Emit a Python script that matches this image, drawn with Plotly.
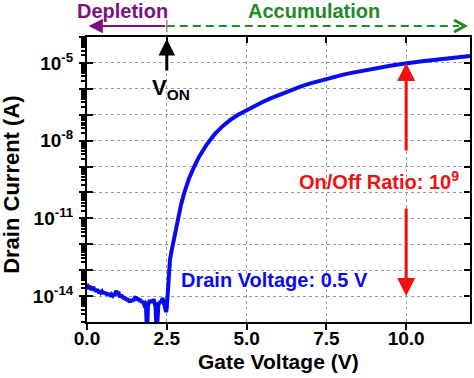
import plotly.graph_objects as go

# ---- data ----
gate_voltage = [
    0.00, 0.02, 0.04, 0.06, 0.08, 0.10, 0.12, 0.14, 0.16, 0.18, 0.20, 0.23, 0.26, 0.29,
    0.32, 0.35, 0.38, 0.41, 0.44, 0.47, 0.50, 0.53, 0.56, 0.59, 0.62, 0.65, 0.68, 0.71,
    0.74, 0.77, 0.80, 0.83, 0.86, 0.89, 0.92, 0.95, 0.98, 1.01, 1.04, 1.07, 1.10, 1.13,
    1.16, 1.19, 1.22, 1.25, 1.28, 1.31, 1.34, 1.37, 1.40, 1.43, 1.46, 1.49, 1.52, 1.55,
    1.58, 1.61, 1.64, 1.67, 1.70, 1.73, 1.76, 1.79, 1.82, 1.85, 1.88, 1.91, 1.94, 1.97,
    2.00, 2.03, 2.06, 2.09, 2.12, 2.15, 2.18, 2.21, 2.24, 2.27, 2.30, 2.33, 2.36, 2.39,
    2.42, 2.45, 2.48, 2.50, 2.52, 2.54, 2.56, 2.60, 2.65, 2.70, 2.77, 2.85, 2.95, 3.05,
    3.20, 3.36, 3.50, 3.75, 4.00, 4.25, 4.50, 4.75, 5.00, 5.25, 5.50, 5.75, 6.00, 6.25,
    6.50, 6.75, 7.00, 7.25, 7.50, 7.75, 8.00, 8.25, 8.50, 8.75, 9.00, 9.25, 9.50, 9.75,
    10.00, 10.50, 11.00, 11.50, 12.00,
]
log10_drain_current = [
    -13.52, -13.68, -13.58, -13.74, -13.60, -13.70, -13.62, -13.78, -13.66, -13.74, -13.64, -13.80, -13.72, -13.84,
    -13.74, -13.80, -13.88, -13.78, -13.86, -13.82, -13.90, -13.84, -13.92, -13.86, -13.96, -13.88, -13.98, -13.92,
    -14.02, -13.94, -13.98, -13.90, -14.00, -13.88, -13.80, -13.90, -13.84, -13.96, -14.04, -13.94, -14.06, -14.00,
    -14.12, -14.04, -14.16, -14.08, -14.20, -14.12, -14.24, -14.14, -14.22, -14.12, -14.18, -14.08, -14.02, -14.12,
    -14.06, -14.18, -14.10, -14.22, -14.16, -14.26, -14.20, -14.32, -14.28, -14.40, -15.60, -14.36, -14.24, -14.16,
    -14.26, -14.14, -14.22, -14.12, -14.30, -14.42, -15.60, -14.34, -14.24, -14.30, -14.18, -14.26, -14.08, -14.16,
    -14.30, -14.46, -14.62, -14.45, -14.00, -13.45, -13.00, -12.60, -12.25, -11.95, -11.45, -11.00, -10.45, -10.00,
    -9.45, -9.00, -8.65, -8.15, -7.75, -7.44, -7.19, -6.99, -6.82, -6.66, -6.51, -6.37, -6.24, -6.12,
    -6.00, -5.89, -5.79, -5.70, -5.61, -5.535, -5.46, -5.395, -5.33, -5.27, -5.215, -5.16, -5.11, -5.06,
    -5.01, -4.935, -4.865, -4.795, -4.73,
]
drain_current = [10 ** v for v in log10_drain_current]

x_tick_vals = [0, 2.5, 5, 7.5, 10]
x_tick_text = ["0.0", "2.5", "5.0", "7.5", "10.0"]
y_decades = list(range(-14, -3))
y_tick_vals = [10.0 ** d for d in y_decades]
y_labeled = [-14, -11, -8, -5]
y_tick_text = [f"10<sup>{d}</sup>" if d in y_labeled else "" for d in y_decades]

x_range = [0, 12]
y_range = [-15, -4]
v_on = 2.5
ratio_x = 10
ratio_top = -5
ratio_bottom = -14

FONT = "Liberation Sans, Arial, sans-serif"
BLUE = "#0a0af2"
PURPLE = "#7f0f80"
GREEN = "#1f8a24"
RED = "#f01010"

fig = go.Figure()
fig.add_trace(go.Scatter(
    x=gate_voltage, y=drain_current, mode="lines",
    line=dict(color=BLUE, width=4), showlegend=False, hoverinfo="skip",
))
# helper traces so mirror axes are drawn
fig.add_trace(go.Scatter(x=[None], y=[None], xaxis="x2", yaxis="y2", showlegend=False))
fig.add_trace(go.Scatter(x=[None], y=[None], xaxis="x", yaxis="y3", showlegend=False))

tickfont = dict(family=FONT, size=19, color="black", weight="bold")
grid = dict(showgrid=True, gridcolor="#9c9c9c", griddash="dot", gridwidth=1)

fig.update_layout(
    width=474, height=378,
    margin=dict(l=87, r=4, t=37, b=56, autoexpand=False),
    paper_bgcolor="white", plot_bgcolor="white",
    xaxis=dict(range=x_range, tickmode="array", tickvals=x_tick_vals, ticktext=x_tick_text,
               ticks="outside", ticklen=6, tickwidth=2, tickcolor="black",
               showline=True, linecolor="black", linewidth=2, mirror=True,
               tickfont=tickfont, zeroline=False, automargin=False,
               ticklabelstandoff=-8, **grid),
    xaxis2=dict(range=x_range, overlaying="x", side="top", tickmode="array",
                tickvals=x_tick_vals, ticks="inside", ticklen=6, tickwidth=2,
                tickcolor="black", showticklabels=False, showgrid=False, zeroline=False,
                showline=False, automargin=False),
    yaxis=dict(type="log", range=y_range, tickmode="array", tickvals=y_tick_vals,
               ticktext=y_tick_text, ticks="outside", ticklen=6, tickwidth=2,
               tickcolor="black", showline=True, linecolor="black", linewidth=2,
               mirror=True, tickfont=tickfont, zeroline=False, automargin=False,
               ticklabelstandoff=2,
               minor=dict(ticks="outside", ticklen=4, tickwidth=1.5, tickcolor="black",
                          dtick="D1", showgrid=False),
               **grid),
    yaxis2=dict(type="log", range=y_range, overlaying="y", side="left", tickmode="array",
                tickvals=y_tick_vals, ticks="inside", ticklen=6, tickwidth=2,
                tickcolor="black", showticklabels=False, showgrid=False, zeroline=False,
                showline=False, automargin=False),
    yaxis3=dict(type="log", range=y_range, overlaying="y", side="right", tickmode="array",
                tickvals=y_tick_vals, ticks="inside", ticklen=6, tickwidth=2,
                tickcolor="black", showticklabels=False, showgrid=False, zeroline=False,
                showline=False, automargin=False),
)

def bold(size, color):
    return dict(family=FONT, size=size, color=color, weight="bold")

ann = []
# axis titles
ann.append(dict(text="Gate Voltage (V)", xref="paper", yref="paper", x=0.5, y=-0.14,
                xanchor="center", yanchor="middle", showarrow=False, font=bold(21, "black")))
ann.append(dict(text="Drain Current (A)", xref="paper", yref="paper", x=-0.196, y=0.481,
                xanchor="center", yanchor="middle", textangle=-90, showarrow=False,
                font=bold(22, "black")))
# depletion / accumulation labels
ann.append(dict(text="Depletion", xref="x", yref="paper", x=1.12, y=1.091,
                xanchor="center", yanchor="middle", showarrow=False, font=bold(20, PURPLE)))
ann.append(dict(text="Accumulation", xref="x", yref="paper", x=7.1, y=1.091,
                xanchor="center", yanchor="middle", showarrow=False, font=bold(20, GREEN)))
# depletion arrow
ann.append(dict(text="", xref="x", yref="paper", x=0.05, y=1.0386,
                axref="x", ax=v_on, ayref="pixel", ay=0, showarrow=True,
                arrowhead=2, arrowsize=1.3, arrowwidth=2.2, arrowcolor=PURPLE))
# V_ON arrow and label
ann.append(dict(text="", xref="x", yref="paper", x=v_on, y=0.993,
                ax=0, ay=33, showarrow=True, arrowhead=2, arrowsize=1.1,
                arrowwidth=3, arrowcolor="black"))
ann.append(dict(text="V<sub>ON</sub>", xref="x", yref="paper", x=2.63, y=0.8175,
                xanchor="center", yanchor="middle", showarrow=False, font=bold(22, "black")))
# on/off ratio arrows and label
ann.append(dict(text="", xref="x", yref="y", x=ratio_x, y=ratio_top,
                axref="x", ax=ratio_x, ayref="y", ay=-8.44, showarrow=True,
                arrowhead=2, arrowsize=1.2, arrowwidth=3, arrowcolor=RED))
ann.append(dict(text="", xref="x", yref="y", x=ratio_x, y=ratio_bottom,
                axref="x", ax=ratio_x, ayref="y", ay=-10.56, showarrow=True,
                arrowhead=2, arrowsize=1.2, arrowwidth=3, arrowcolor=RED))
ann.append(dict(text="On/Off Ratio: 10<sup>9</sup>", xref="x", yref="y", x=9.16, y=-9.52,
                xanchor="center", yanchor="middle", showarrow=False, font=bold(20, RED)))
ann.append(dict(text="Drain Voltage: 0.5 V", xref="x", yref="y", x=5.89, y=-13.38,
                xanchor="center", yanchor="middle", showarrow=False, font=bold(20, BLUE)))
fig.update_layout(annotations=ann)

shapes = [
    # green dashed accumulation line
    dict(type="line", xref="x", yref="paper", x0=v_on, x1=11.65, y0=1.0386, y1=1.0386,
         line=dict(color=GREEN, width=2.2, dash="8px,5px")),
    # chevron head
    dict(type="path", xref="x", yref="paper",
         path="M 11.50 1.0596 L 11.84 1.0386 L 11.50 1.0175",
         line=dict(color=GREEN, width=3)),
    # small gray separator at V_ON
    dict(type="line", xref="x", yref="paper", x0=v_on, x1=v_on, y0=1.017, y1=1.060,
         line=dict(color="#8a8a8a", width=1.5)),
]
fig.update_layout(shapes=shapes)

fig.write_html("out.html", config={"displayModeBar": False},
               post_script="document.body.style.margin='0';")
